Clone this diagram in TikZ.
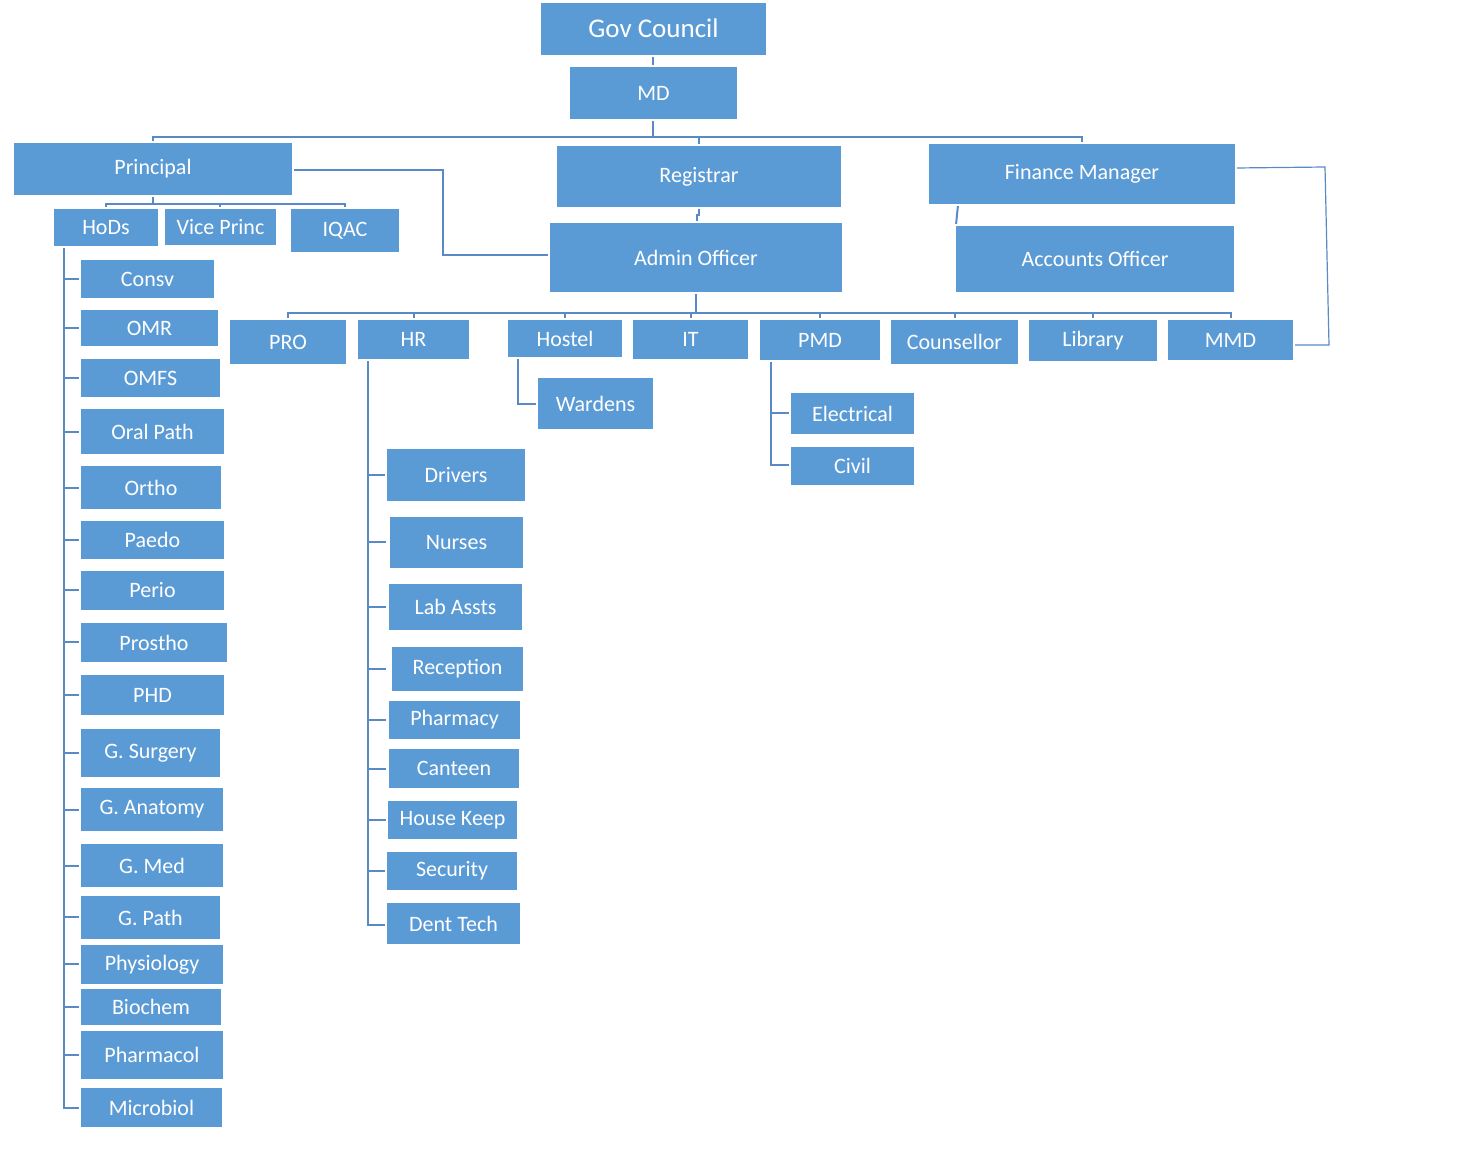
\documentclass[tikz,border=0pt]{standalone}
\usepackage{fontspec}
\setmainfont{Carlito}
\definecolor{bx}{HTML}{5B9BD5}
\definecolor{ln}{HTML}{5A8AC6}
\begin{document}
\begin{tikzpicture}[x=1pt,y=-1pt,
  ln/.style={draw=ln,line width=2pt},
  txt/.style={font=\fontsize{22}{24}\selectfont,text=white}]
\useasboundingbox (0,0) rectangle (1476,1153);
\newcommand{\bx}[6]{%
  \filldraw[fill=bx,draw=white,line width=1.5pt] (#2,#3) rectangle (#4,#5);
  \node[txt,inner sep=0pt] (#1) at ({(#2+#4)/2},{(#3+#5)/2}) {#6};
  \coordinate (#1-n) at ({(#2+#4)/2},#3);
  \coordinate (#1-s) at ({(#2+#4)/2},#5);
  \coordinate (#1-w) at (#2,{(#3+#5)/2});
  \coordinate (#1-e) at (#4,{(#3+#5)/2});}
% connectors first
\coordinate (bus1) at (653,137);
\draw[ln] (653,56)--(653,66);
\draw[ln] (653,120)--(653,137);
\draw[ln] (153,142)--(153,137)--(1082,137)--(1082,143);
\draw[ln] (699,137)--(699,145);
\draw[ln] (153,196)--(153,204);
\draw[ln] (106,208)--(106,204)--(345,204)--(345,208);
\draw[ln] (220,204)--(220,208);
\draw[ln,line width=1.2pt] (293,170)--(443,170)--(443,255)--(549,255);
\draw[ln] (699,208)--(699,215)--(697,215)--(697,222);
\draw[ln] (958,205)--(956,225);
\draw[ln,line width=1.2pt] (1236,168)--(1325,167)--(1329,345)--(1294,345);
\draw[ln] (696,293)--(696,313);
\draw[ln] (288,319)--(288,313)--(1231,313)--(1231,319);
\foreach \x in {414,565,691,820,955,1093} \draw[ln] (\x,313)--(\x,319);
\foreach \y in {279,328,378,432,488,540,590,642,695,753,810,866,917,964,1007,1055}
  \draw[ln] (64,\y)--(80,\y);
\draw[ln] (64,247)--(64,1108)--(80,1108);
\foreach \y in {475,542,607,669,720,769,820,871}
  \draw[ln] (368,\y)--(386,\y);
\draw[ln] (368,360)--(368,925)--(386,925);
\draw[ln] (518,358)--(518,404)--(537,404);
\draw[ln] (771,361)--(771,465)--(790,465);
\draw[ln] (771,413)--(790,413);
% boxes
\filldraw[fill=bx,draw=white,line width=1.5pt] (540,2) rectangle (767,56);
\node[font=\fontsize{27}{29}\selectfont,text=white] (gov) at (653.5,28) {Gov Council};
\bx{md}{569}{66}{738}{120}{MD}
\bx{prin}{13}{142}{293}{196}{Principal}
\bx{reg}{556}{145}{842}{208}{Registrar}
\bx{fin}{928}{143}{1236}{205}{Finance Manager}
\bx{hods}{53}{208}{159}{247}{HoDs}
\bx{vp}{164}{208}{277}{246}{Vice Princ}
\bx{iqac}{290}{208}{400}{253}{IQAC}
\bx{adm}{549}{222}{843}{293}{Admin Officer}
\bx{acc}{955}{225}{1235}{293}{Accounts Officer}
\bx{pro}{229}{319}{347}{365}{PRO}
\bx{hr}{357}{319}{470}{360}{HR}
\bx{hos}{507}{319}{623}{358}{Hostel}
\bx{it}{632}{319}{749}{360}{IT}
\bx{pmd}{759}{319}{881}{361}{PMD}
\bx{cou}{890}{319}{1019}{365}{Counsellor}
\bx{lib}{1028}{319}{1158}{362}{Library}
\bx{mmd}{1167}{319}{1294}{361}{MMD}
\bx{war}{537}{377}{654}{430}{Wardens}
\bx{ele}{790}{392}{915}{435}{Electrical}
\bx{civ}{790}{446}{915}{486}{Civil}
\bx{d1}{80}{259}{215}{299}{Consv}
\bx{d2}{80}{309}{219}{347}{OMR}
\bx{d3}{80}{358}{221}{398}{OMFS}
\bx{d4}{80}{408}{225}{455}{Oral Path}
\bx{d5}{80}{465}{222}{510}{Ortho}
\bx{d6}{80}{520}{225}{560}{Paedo}
\bx{d7}{80}{570}{225}{611}{Perio}
\bx{d8}{80}{622}{228}{663}{Prostho}
\bx{d9}{80}{674}{225}{716}{PHD}
\bx{d10}{80}{728}{221}{778}{G. Surgery}
\bx{d11}{80}{787}{224}{832}{G. Anatomy}
\bx{d12}{80}{843}{224}{888}{G. Med}
\bx{d13}{80}{895}{221}{940}{G. Path}
\bx{d14}{80}{944}{224}{985}{Physiology}
\bx{d15}{80}{988}{222}{1026}{Biochem}
\bx{d16}{80}{1030}{224}{1080}{Pharmacol}
\bx{d17}{80}{1087}{223}{1128}{Microbiol}
\bx{h1}{386}{448}{526}{502}{Drivers}
\bx{h2}{389}{516}{524}{569}{Nurses}
\bx{h3}{388}{583}{523}{631}{Lab Assts}
\bx{h4}{391}{646}{524}{692}{Reception}
\bx{h5}{388}{700}{521}{740}{Pharmacy}
\bx{h6}{388}{748}{520}{789}{Canteen}
\bx{h7}{387}{800}{518}{840}{House Keep}
\bx{h8}{386}{851}{518}{891}{Security}
\bx{h9}{386}{902}{521}{945}{Dent Tech}
\end{tikzpicture}
\end{document}
